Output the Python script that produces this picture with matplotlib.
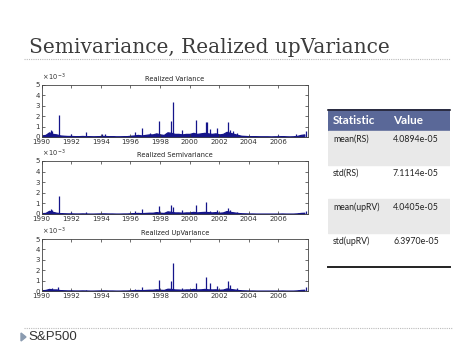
import numpy as np
import matplotlib
matplotlib.use("Agg")
import matplotlib.pyplot as plt
from matplotlib.patches import Rectangle, Polygon
from matplotlib.lines import Line2D

# --- data (variance values in units of 1e-3) ---
quarters = np.arange(1990, 2008, 0.25)

rv_base = [0.15, 0.2, 0.45, 0.3, 0.25, 0.15, 0.12, 0.1,
           0.1, 0.08, 0.08, 0.1, 0.08, 0.07, 0.06, 0.07,
           0.1, 0.1, 0.08, 0.08, 0.06, 0.06, 0.07, 0.08,
           0.12, 0.15, 0.2, 0.15, 0.2, 0.25, 0.25, 0.35,
           0.25, 0.2, 0.45, 0.4, 0.3, 0.3, 0.25, 0.3,
           0.3, 0.4, 0.3, 0.35, 0.4, 0.35, 0.3, 0.35,
           0.25, 0.3, 0.5, 0.4, 0.3, 0.2, 0.12, 0.1,
           0.08, 0.08, 0.07, 0.06, 0.06, 0.06, 0.05, 0.06,
           0.06, 0.08, 0.06, 0.05, 0.06, 0.1, 0.2, 0.25]
rs_base = [0.08, 0.1, 0.3, 0.2, 0.12, 0.08, 0.06, 0.05,
           0.05, 0.04, 0.04, 0.05, 0.04, 0.03, 0.03, 0.04,
           0.05, 0.05, 0.04, 0.04, 0.03, 0.03, 0.04, 0.04,
           0.06, 0.08, 0.1, 0.08, 0.1, 0.12, 0.12, 0.18,
           0.12, 0.1, 0.25, 0.2, 0.15, 0.15, 0.12, 0.15,
           0.15, 0.2, 0.15, 0.18, 0.2, 0.18, 0.15, 0.18,
           0.12, 0.15, 0.28, 0.2, 0.15, 0.1, 0.06, 0.05,
           0.04, 0.04, 0.03, 0.03, 0.03, 0.03, 0.03, 0.03,
           0.03, 0.04, 0.03, 0.03, 0.03, 0.05, 0.1, 0.12]
up_base = [0.07, 0.1, 0.2, 0.15, 0.15, 0.08, 0.06, 0.05,
           0.05, 0.04, 0.04, 0.05, 0.04, 0.03, 0.03, 0.04,
           0.05, 0.05, 0.04, 0.04, 0.03, 0.03, 0.04, 0.04,
           0.06, 0.07, 0.1, 0.08, 0.1, 0.12, 0.12, 0.16,
           0.12, 0.1, 0.22, 0.2, 0.15, 0.14, 0.12, 0.15,
           0.15, 0.2, 0.15, 0.16, 0.2, 0.16, 0.15, 0.16,
           0.12, 0.14, 0.25, 0.2, 0.15, 0.1, 0.06, 0.05,
           0.04, 0.04, 0.03, 0.03, 0.03, 0.03, 0.03, 0.03,
           0.03, 0.04, 0.03, 0.03, 0.03, 0.05, 0.1, 0.12]

rv_spike_years = [1990.6, 1990.7, 1991.15, 1992.0, 1993.0, 1994.1, 1994.3,
                  1996.3, 1996.75, 1997.3, 1997.95, 1998.75, 1998.9, 1999.5,
                  2000.4, 2001.1, 2001.2, 2001.4, 2001.85, 2002.6, 2002.75,
                  2002.9, 2003.2, 2006.0, 2007.2, 2007.85]
rv_spike_vals = [0.7, 0.6, 2.1, 0.25, 0.5, 0.25, 0.3,
                 0.5, 0.9, 0.35, 1.5, 1.5, 3.35, 0.7,
                 1.65, 1.45, 1.4, 0.75, 0.9, 1.45, 0.7,
                 0.55, 0.35, 0.15, 0.25, 0.6]

rs_spike_years = [1990.6, 1990.7, 1991.15, 1992.0, 1993.0,
                  1996.3, 1996.75, 1997.95, 1998.75, 1998.9, 1999.5,
                  2000.4, 2001.1, 2001.4, 2001.85, 2002.6, 2002.75,
                  2003.2, 2007.85]
rs_spike_vals = [0.5, 0.4, 1.7, 0.15, 0.2,
                 0.25, 0.45, 0.8, 0.85, 0.7, 0.35,
                 0.85, 1.15, 0.3, 0.35, 0.6, 0.35,
                 0.2, 0.3]

up_spike_years = [1990.7, 1991.1, 1992.0, 1993.0,
                  1996.3, 1996.8, 1997.95, 1998.75, 1998.9, 1999.5,
                  2000.4, 2001.1, 2001.4, 2001.85, 2002.6, 2002.75,
                  2003.2, 2007.85]
up_spike_vals = [0.25, 0.35, 0.1, 0.12,
                 0.2, 0.4, 1.05, 0.95, 2.7, 0.25,
                 0.75, 1.3, 0.75, 0.5, 1.0, 0.6,
                 0.25, 0.35]

panel_titles = ["Realized Variance", "Realized Semivariance", "Realized UpVariance"]
year_ticks = list(range(1990, 2007, 2))

table_header = ["Statistic", "Value"]
table_stats = ["mean(RS)", "std(RS)", "mean(upRV)", "std(upRV)"]
table_values = ["4.0894e-05", "7.1114e-05", "4.0405e-05", "6.3970e-05"]

# --- figure ---
W, H = 474, 355
fig = plt.figure(figsize=(W / 100, H / 100), dpi=100)
fig.patch.set_facecolor("white")

def px_axes(left, top, right, bottom):
    return fig.add_axes([left / W, 1 - bottom / H, (right - left) / W, (bottom - top) / H])

line_col = "#15158a"
panels = [
    (85, 137, rv_base, rv_spike_years, rv_spike_vals),
    (161, 214, rs_base, rs_spike_years, rs_spike_vals),
    (239, 291, up_base, up_spike_years, up_spike_vals),
]
for (top, bot, base, sy, sv), title in zip(panels, panel_titles):
    ax = px_axes(41.7, top, 308, bot)
    ax.fill_between(quarters, 0, base, color=line_col, linewidth=0.9)
    ax.vlines(sy, 0, sv, color=line_col, linewidth=0.9)
    ax.set_xlim(1990, 2008)
    ax.set_ylim(0, 5)
    ax.set_xticks(year_ticks)
    ax.set_yticks(range(0, 6))
    ax.tick_params(direction="in", length=2, width=0.5, labelsize=5,
                   top=True, right=True, pad=1.5, colors="#333333")
    for s in ax.spines.values():
        s.set_linewidth(0.6)
        s.set_color("#444444")
    ax.set_title(title, fontsize=4.8, pad=3, color="#222222")
    ax.text(0.0, 1.04, r"$\times\,10^{-3}$", transform=ax.transAxes,
            fontsize=4.8, ha="left", va="bottom", color="#333333")

# --- slide title ---
fig.text(29 / W, 1 - 53 / H, "Semivariance, Realized upVariance",
         family="DejaVu Serif", fontsize=14.5, color="#3c3c3c", va="baseline")
fig.add_artist(Line2D([24 / W, 450 / W], [1 - 59 / H, 1 - 59 / H],
                      color="#bbbbbb", linewidth=0.8, linestyle=(0, (1, 1))))
fig.add_artist(Line2D([24 / W, 452 / W], [1 - 328 / H, 1 - 328 / H],
                      color="#bbbbbb", linewidth=0.8, linestyle=(0, (1, 1))))

# bullet
fig.add_artist(Polygon([[21 / W, 1 - 333 / H], [21 / W, 1 - 341 / H], [26 / W, 1 - 337 / H]],
                       closed=True, color="#8a9bb0", transform=fig.transFigure))
fig.text(28 / W, 1 - 337 / H, "S&P500", family="Liberation Sans", fontsize=9.5,
         color="#333333", va="center")

# --- table ---
tx = px_axes(328, 109, 450, 267)
tx.set_xlim(0, 122)
tx.set_ylim(158, 0)
tx.axis("off")
tx.add_patch(Rectangle((0, 0), 122, 22, color="#5a6898"))
row_h = 34
for i, (st, val) in enumerate(zip(table_stats, table_values)):
    y0 = 22 + i * row_h
    if i % 2 == 0:
        tx.add_patch(Rectangle((0, y0), 122, row_h, color="#e9e9e9"))
    tx.text(5, y0 + 8, st, fontsize=6.3, family="Lato", color="#222222", va="center")
    tx.text(65, y0 + 8, val, fontsize=6.3, family="Lato", color="#222222", va="center")
tx.text(5, 11, table_header[0], fontsize=8.5, family="Lato", weight="bold",
        color="white", va="center")
tx.text(65, 11, table_header[1], fontsize=8.5, family="Lato", weight="bold",
        color="white", va="center")
tx.plot([0, 122], [0.5, 0.5], color="#222233", linewidth=1.2, clip_on=False)
tx.plot([0, 122], [158, 158], color="#222222", linewidth=1.4, clip_on=False)

fig.savefig("out.png", dpi=100)
